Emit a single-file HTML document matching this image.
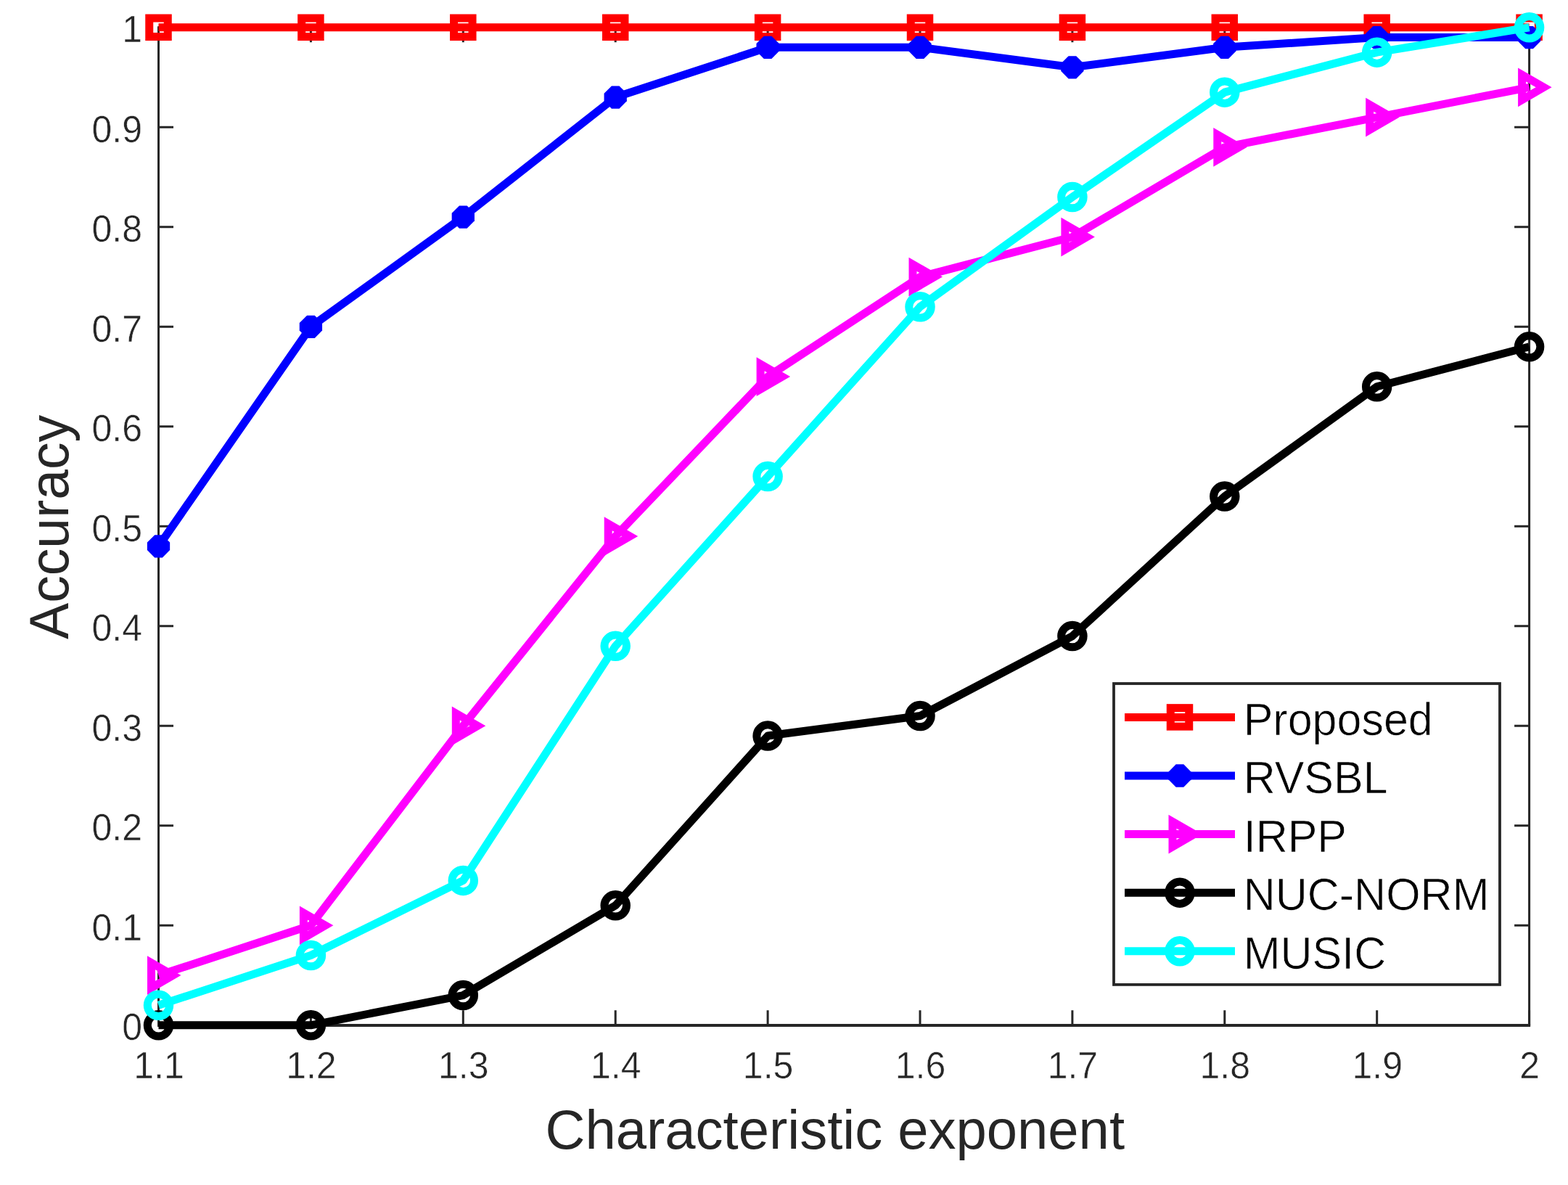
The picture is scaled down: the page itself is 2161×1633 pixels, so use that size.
<!DOCTYPE html>
<html><head><meta charset="utf-8"><title>Accuracy vs Characteristic exponent</title>
<style>html,body{margin:0;padding:0;background:#fff;overflow:hidden}svg{display:block}text{font-family:"Liberation Sans",Arial,Helvetica,sans-serif}</style></head><body>
<svg width="2161" height="1633" viewBox="0 0 2161 1633">
<rect width="2161" height="1633" fill="#fff"/>
<g stroke="#262626" stroke-width="3" fill="none"><path d="M218.5 1412.8V1392.3M218.5 37.8V58.3M428.4 1412.8V1392.3M428.4 37.8V58.3M638.3 1412.8V1392.3M638.3 37.8V58.3M848.2 1412.8V1392.3M848.2 37.8V58.3M1058.1 1412.8V1392.3M1058.1 37.8V58.3M1268 1412.8V1392.3M1268 37.8V58.3M1477.9 1412.8V1392.3M1477.9 37.8V58.3M1687.8 1412.8V1392.3M1687.8 37.8V58.3M1897.7 1412.8V1392.3M1897.7 37.8V58.3M2107.6 1412.8V1392.3M2107.6 37.8V58.3M218.5 1412.8H239M2107.6 1412.8H2087.1M218.5 1275.3H239M2107.6 1275.3H2087.1M218.5 1137.8H239M2107.6 1137.8H2087.1M218.5 1000.3H239M2107.6 1000.3H2087.1M218.5 862.8H239M2107.6 862.8H2087.1M218.5 725.3H239M2107.6 725.3H2087.1M218.5 587.8H239M2107.6 587.8H2087.1M218.5 450.3H239M2107.6 450.3H2087.1M218.5 312.8H239M2107.6 312.8H2087.1M218.5 175.3H239M2107.6 175.3H2087.1M218.5 37.8H239M2107.6 37.8H2087.1"/><rect x="218.5" y="37.8" width="1889.1" height="1375"/><path d="M217 1413H2109.1" stroke-width="4"/></g>
<g fill="#262626" font-size="50" stroke="#fff" stroke-width="0.5"><text x="219" y="0" transform="translate(0 1485.7) scale(1 1.044)" text-anchor="middle">1.1</text><text x="428.9" y="0" transform="translate(0 1485.7) scale(1 1.044)" text-anchor="middle">1.2</text><text x="638.8" y="0" transform="translate(0 1485.7) scale(1 1.044)" text-anchor="middle">1.3</text><text x="848.7" y="0" transform="translate(0 1485.7) scale(1 1.044)" text-anchor="middle">1.4</text><text x="1058.6" y="0" transform="translate(0 1485.7) scale(1 1.044)" text-anchor="middle">1.5</text><text x="1268.5" y="0" transform="translate(0 1485.7) scale(1 1.044)" text-anchor="middle">1.6</text><text x="1478.4" y="0" transform="translate(0 1485.7) scale(1 1.044)" text-anchor="middle">1.7</text><text x="1688.3" y="0" transform="translate(0 1485.7) scale(1 1.044)" text-anchor="middle">1.8</text><text x="1898.2" y="0" transform="translate(0 1485.7) scale(1 1.044)" text-anchor="middle">1.9</text><text x="2108.1" y="0" transform="translate(0 1485.7) scale(1 1.044)" text-anchor="middle">2</text><text x="196" y="0" transform="translate(0 1433.2) scale(1 1.044)" text-anchor="end">0</text><text x="196" y="0" transform="translate(0 1295.7) scale(1 1.044)" text-anchor="end">0.1</text><text x="196" y="0" transform="translate(0 1158.2) scale(1 1.044)" text-anchor="end">0.2</text><text x="196" y="0" transform="translate(0 1020.7) scale(1 1.044)" text-anchor="end">0.3</text><text x="196" y="0" transform="translate(0 883.2) scale(1 1.044)" text-anchor="end">0.4</text><text x="196" y="0" transform="translate(0 745.7) scale(1 1.044)" text-anchor="end">0.5</text><text x="196" y="0" transform="translate(0 608.2) scale(1 1.044)" text-anchor="end">0.6</text><text x="196" y="0" transform="translate(0 470.7) scale(1 1.044)" text-anchor="end">0.7</text><text x="196" y="0" transform="translate(0 333.2) scale(1 1.044)" text-anchor="end">0.8</text><text x="196" y="0" transform="translate(0 195.7) scale(1 1.044)" text-anchor="end">0.9</text><text x="196" y="0" transform="translate(0 58.2) scale(1 1.044)" text-anchor="end">1</text></g>
<text x="0" y="0" font-size="76" fill="#262626" text-anchor="middle" transform="translate(1150.8 1582.8)">Characteristic exponent</text>
<text x="0" y="0" font-size="75.2" fill="#262626" text-anchor="middle" transform="translate(93.9 726.4) rotate(-90)">Accuracy</text>
<g><polyline points="218.5,37.8 428.4,37.8 638.3,37.8 848.2,37.8 1058.1,37.8 1268,37.8 1477.9,37.8 1687.8,37.8 1897.7,37.8 2107.6,37.8" fill="none" stroke="#ff0000" stroke-width="11" stroke-linejoin="round"/><rect x="205.75" y="25.05" width="25.5" height="25.5" fill="none" stroke="#ff0000" stroke-width="11"/><rect x="415.65" y="25.05" width="25.5" height="25.5" fill="none" stroke="#ff0000" stroke-width="11"/><rect x="625.55" y="25.05" width="25.5" height="25.5" fill="none" stroke="#ff0000" stroke-width="11"/><rect x="835.45" y="25.05" width="25.5" height="25.5" fill="none" stroke="#ff0000" stroke-width="11"/><rect x="1045.35" y="25.05" width="25.5" height="25.5" fill="none" stroke="#ff0000" stroke-width="11"/><rect x="1255.25" y="25.05" width="25.5" height="25.5" fill="none" stroke="#ff0000" stroke-width="11"/><rect x="1465.15" y="25.05" width="25.5" height="25.5" fill="none" stroke="#ff0000" stroke-width="11"/><rect x="1675.05" y="25.05" width="25.5" height="25.5" fill="none" stroke="#ff0000" stroke-width="11"/><rect x="1884.95" y="25.05" width="25.5" height="25.5" fill="none" stroke="#ff0000" stroke-width="11"/><rect x="2094.85" y="25.05" width="25.5" height="25.5" fill="none" stroke="#ff0000" stroke-width="11"/></g>
<g><polyline points="218.5,752.8 428.4,450.3 638.3,299.05 848.2,134.05 1058.1,65.3 1268,65.3 1477.9,92.8 1687.8,65.3 1897.7,51.55 2107.6,51.55" fill="none" stroke="#0000ff" stroke-width="11" stroke-linejoin="round"/><polygon points="213.2,737.15 223.8,737.15 234.15,747.5 234.15,758.1 223.8,768.45 213.2,768.45 202.85,758.1 202.85,747.5" fill="#0000ff"/><polygon points="423.1,434.65 433.7,434.65 444.05,445 444.05,455.6 433.7,465.95 423.1,465.95 412.75,455.6 412.75,445" fill="#0000ff"/><polygon points="633,283.4 643.6,283.4 653.95,293.75 653.95,304.35 643.6,314.7 633,314.7 622.65,304.35 622.65,293.75" fill="#0000ff"/><polygon points="842.9,118.4 853.5,118.4 863.85,128.75 863.85,139.35 853.5,149.7 842.9,149.7 832.55,139.35 832.55,128.75" fill="#0000ff"/><polygon points="1052.8,49.65 1063.4,49.65 1073.75,60 1073.75,70.6 1063.4,80.95 1052.8,80.95 1042.45,70.6 1042.45,60" fill="#0000ff"/><polygon points="1262.7,49.65 1273.3,49.65 1283.65,60 1283.65,70.6 1273.3,80.95 1262.7,80.95 1252.35,70.6 1252.35,60" fill="#0000ff"/><polygon points="1472.6,77.15 1483.2,77.15 1493.55,87.5 1493.55,98.1 1483.2,108.45 1472.6,108.45 1462.25,98.1 1462.25,87.5" fill="#0000ff"/><polygon points="1682.5,49.65 1693.1,49.65 1703.45,60 1703.45,70.6 1693.1,80.95 1682.5,80.95 1672.15,70.6 1672.15,60" fill="#0000ff"/><polygon points="1892.4,35.9 1903,35.9 1913.35,46.25 1913.35,56.85 1903,67.2 1892.4,67.2 1882.05,56.85 1882.05,46.25" fill="#0000ff"/><polygon points="2102.3,35.9 2112.9,35.9 2123.25,46.25 2123.25,56.85 2112.9,67.2 2102.3,67.2 2091.95,56.85 2091.95,46.25" fill="#0000ff"/></g>
<g><polyline points="218.5,1344.05 428.4,1275.3 638.3,1000.3 848.2,739.05 1058.1,519.05 1268,381.55 1477.9,326.55 1687.8,202.8 1897.7,161.55 2107.6,120.3" fill="none" stroke="#ff00ff" stroke-width="11" stroke-linejoin="round"/><polygon points="208.5,1326.73 238.5,1344.05 208.5,1361.37" fill="none" stroke="#ff00ff" stroke-width="11" stroke-linejoin="miter" stroke-miterlimit="10"/><polygon points="418.4,1257.98 448.4,1275.3 418.4,1292.62" fill="none" stroke="#ff00ff" stroke-width="11" stroke-linejoin="miter" stroke-miterlimit="10"/><polygon points="628.3,982.98 658.3,1000.3 628.3,1017.62" fill="none" stroke="#ff00ff" stroke-width="11" stroke-linejoin="miter" stroke-miterlimit="10"/><polygon points="838.2,721.73 868.2,739.05 838.2,756.37" fill="none" stroke="#ff00ff" stroke-width="11" stroke-linejoin="miter" stroke-miterlimit="10"/><polygon points="1048.1,501.73 1078.1,519.05 1048.1,536.37" fill="none" stroke="#ff00ff" stroke-width="11" stroke-linejoin="miter" stroke-miterlimit="10"/><polygon points="1258,364.23 1288,381.55 1258,398.87" fill="none" stroke="#ff00ff" stroke-width="11" stroke-linejoin="miter" stroke-miterlimit="10"/><polygon points="1467.9,309.23 1497.9,326.55 1467.9,343.87" fill="none" stroke="#ff00ff" stroke-width="11" stroke-linejoin="miter" stroke-miterlimit="10"/><polygon points="1677.8,185.48 1707.8,202.8 1677.8,220.12" fill="none" stroke="#ff00ff" stroke-width="11" stroke-linejoin="miter" stroke-miterlimit="10"/><polygon points="1887.7,144.23 1917.7,161.55 1887.7,178.87" fill="none" stroke="#ff00ff" stroke-width="11" stroke-linejoin="miter" stroke-miterlimit="10"/><polygon points="2097.6,102.98 2127.6,120.3 2097.6,137.62" fill="none" stroke="#ff00ff" stroke-width="11" stroke-linejoin="miter" stroke-miterlimit="10"/></g>
<g><polyline points="218.5,1412.8 428.4,1412.8 638.3,1371.55 848.2,1247.8 1058.1,1014.05 1268,986.55 1477.9,876.55 1687.8,684.05 1897.7,532.8 2107.6,477.8" fill="none" stroke="#000000" stroke-width="11" stroke-linejoin="round"/><circle cx="218.5" cy="1412.8" r="15.25" fill="none" stroke="#000000" stroke-width="11"/><circle cx="428.4" cy="1412.8" r="15.25" fill="none" stroke="#000000" stroke-width="11"/><circle cx="638.3" cy="1371.55" r="15.25" fill="none" stroke="#000000" stroke-width="11"/><circle cx="848.2" cy="1247.8" r="15.25" fill="none" stroke="#000000" stroke-width="11"/><circle cx="1058.1" cy="1014.05" r="15.25" fill="none" stroke="#000000" stroke-width="11"/><circle cx="1268" cy="986.55" r="15.25" fill="none" stroke="#000000" stroke-width="11"/><circle cx="1477.9" cy="876.55" r="15.25" fill="none" stroke="#000000" stroke-width="11"/><circle cx="1687.8" cy="684.05" r="15.25" fill="none" stroke="#000000" stroke-width="11"/><circle cx="1897.7" cy="532.8" r="15.25" fill="none" stroke="#000000" stroke-width="11"/><circle cx="2107.6" cy="477.8" r="15.25" fill="none" stroke="#000000" stroke-width="11"/></g>
<g><polyline points="218.5,1385.3 428.4,1316.55 638.3,1213.42 848.2,890.3 1058.1,656.55 1268,422.8 1477.9,271.55 1687.8,127.17 1897.7,72.18 2107.6,37.8" fill="none" stroke="#00ffff" stroke-width="11" stroke-linejoin="round"/><circle cx="218.5" cy="1385.3" r="15.25" fill="none" stroke="#00ffff" stroke-width="11"/><circle cx="428.4" cy="1316.55" r="15.25" fill="none" stroke="#00ffff" stroke-width="11"/><circle cx="638.3" cy="1213.42" r="15.25" fill="none" stroke="#00ffff" stroke-width="11"/><circle cx="848.2" cy="890.3" r="15.25" fill="none" stroke="#00ffff" stroke-width="11"/><circle cx="1058.1" cy="656.55" r="15.25" fill="none" stroke="#00ffff" stroke-width="11"/><circle cx="1268" cy="422.8" r="15.25" fill="none" stroke="#00ffff" stroke-width="11"/><circle cx="1477.9" cy="271.55" r="15.25" fill="none" stroke="#00ffff" stroke-width="11"/><circle cx="1687.8" cy="127.17" r="15.25" fill="none" stroke="#00ffff" stroke-width="11"/><circle cx="1897.7" cy="72.18" r="15.25" fill="none" stroke="#00ffff" stroke-width="11"/><circle cx="2107.6" cy="37.8" r="15.25" fill="none" stroke="#00ffff" stroke-width="11"/></g>
<rect x="1535" y="942" width="532" height="414.9" fill="#fff" stroke="#262626" stroke-width="3.8"/>
<line x1="1550" y1="988.4" x2="1702" y2="988.4" stroke="#ff0000" stroke-width="11"/>
<rect x="1613.25" y="975.65" width="25.5" height="25.5" fill="none" stroke="#ff0000" stroke-width="11"/>
<text x="1713.7" y="0" transform="translate(0 1012.6) scale(1 1.02)" font-size="61" fill="#000" stroke="#fff" stroke-width="0.7">Proposed</text>
<line x1="1550" y1="1069" x2="1702" y2="1069" stroke="#0000ff" stroke-width="11"/>
<polygon points="1620.7,1053.35 1631.3,1053.35 1641.65,1063.7 1641.65,1074.3 1631.3,1084.65 1620.7,1084.65 1610.35,1074.3 1610.35,1063.7" fill="#0000ff"/>
<text x="1713.7" y="0" transform="translate(0 1093.2) scale(1 1.04)" font-size="61" fill="#000" stroke="#fff" stroke-width="0.7">RVSBL</text>
<line x1="1550" y1="1149.6" x2="1702" y2="1149.6" stroke="#ff00ff" stroke-width="11"/>
<polygon points="1616,1132.28 1646,1149.6 1616,1166.92" fill="none" stroke="#ff00ff" stroke-width="11" stroke-linejoin="miter" stroke-miterlimit="10"/>
<text x="1713.7" y="0" transform="translate(0 1173.8) scale(1 1.04)" font-size="61" fill="#000" stroke="#fff" stroke-width="0.7">IRPP</text>
<line x1="1550" y1="1230.2" x2="1702" y2="1230.2" stroke="#000000" stroke-width="11"/>
<circle cx="1626" cy="1230.2" r="15.25" fill="none" stroke="#000000" stroke-width="11"/>
<text x="1713.7" y="0" transform="translate(0 1254.4) scale(1 1.04)" font-size="61" fill="#000" stroke="#fff" stroke-width="0.7">NUC-NORM</text>
<line x1="1550" y1="1310.8" x2="1702" y2="1310.8" stroke="#00ffff" stroke-width="11"/>
<circle cx="1626" cy="1310.8" r="15.25" fill="none" stroke="#00ffff" stroke-width="11"/>
<text x="1713.7" y="0" transform="translate(0 1335) scale(1 1.04)" font-size="61" fill="#000" stroke="#fff" stroke-width="0.7">MUSIC</text>
</svg></body></html>
